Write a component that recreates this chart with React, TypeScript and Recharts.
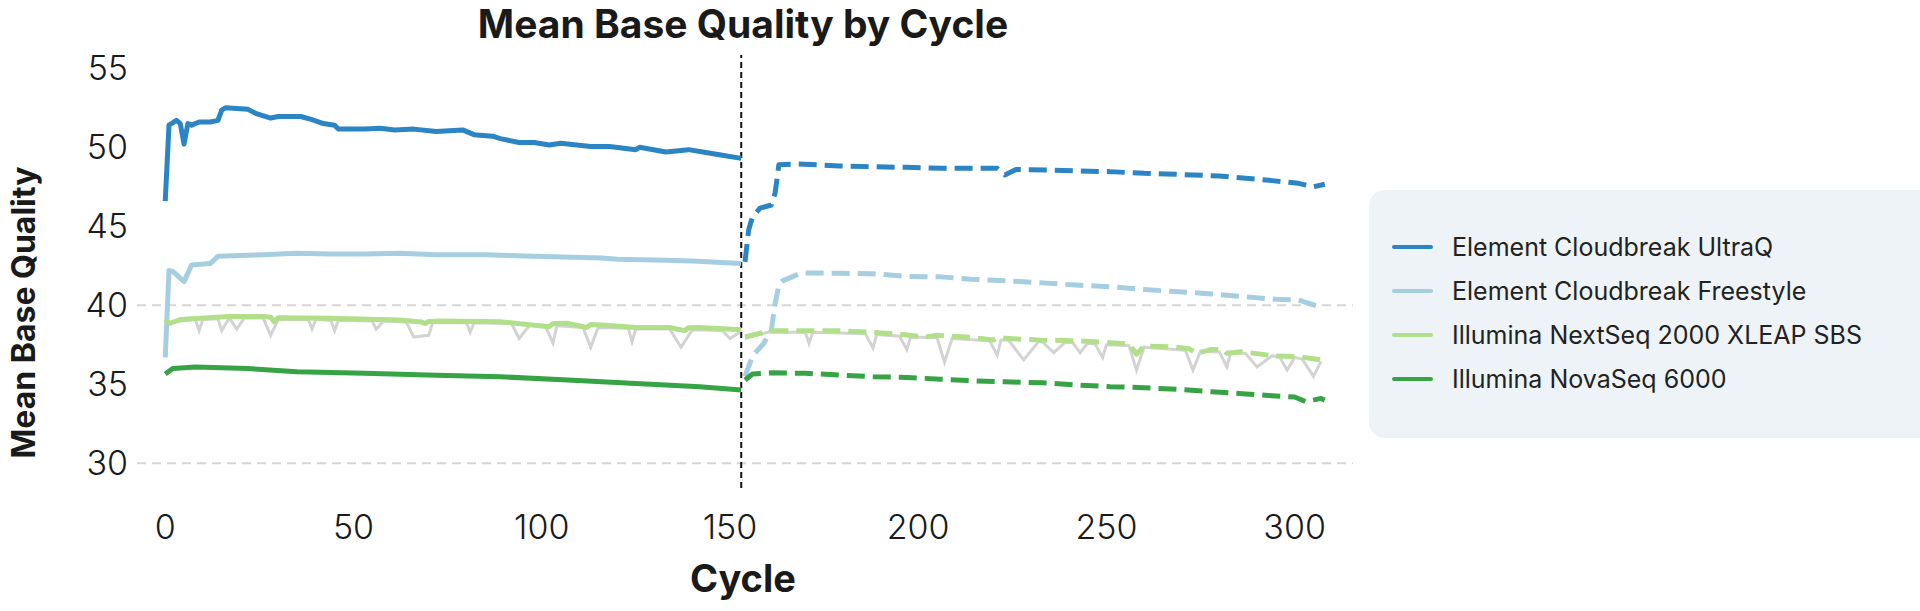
import React from 'react';
import { LineChart, Line, XAxis, YAxis, ReferenceLine } from 'recharts';

// [cycle, mean quality] pairs
const ULTRAQ_R1: [number, number][] = [
  [0, 46.6], [1, 51.4], [3, 51.7], [4, 51.5], [5, 50.2], [6, 51.5], [7, 51.4], [9, 51.6],
  [12, 51.6], [14, 51.7], [15, 52.35], [16, 52.5], [22, 52.4], [24, 52.15], [28, 51.85],
  [30, 51.95], [36, 51.95], [39, 51.75], [42, 51.5], [45, 51.4], [46, 51.15], [53, 51.15],
  [57, 51.2], [61, 51.1], [66, 51.15], [72, 51.0], [79, 51.1], [82, 50.8], [87, 50.7],
  [89, 50.55], [94, 50.3], [98, 50.3], [102, 50.15], [105, 50.25], [113, 50.05], [118, 50.05],
  [125, 49.85], [126, 50.0], [133, 49.7], [139, 49.85], [144, 49.65], [148, 49.5], [153, 49.3],
];
const ULTRAQ_R2: [number, number][] = [
  [154, 42.75], [155, 44.8], [156, 45.6], [158, 46.15], [161, 46.35], [162, 47.1], [163, 48.9],
  [168, 48.95], [179, 48.82], [188, 48.77], [197, 48.73], [206, 48.67], [214, 48.67],
  [221, 48.67], [223, 48.25], [226, 48.6], [235, 48.56], [242, 48.5], [251, 48.46],
  [260, 48.35], [266, 48.31], [273, 48.25], [280, 48.18], [287, 48.04], [294, 47.89],
  [301, 47.72], [305, 47.5], [308, 47.66],
];

const FREESTYLE_R1: [number, number][] = [
  [0, 36.7], [1, 42.2], [2, 42.15], [5, 41.5], [7, 42.55], [12, 42.65], [14, 43.1], [26, 43.2],
  [35, 43.3], [44, 43.25], [53, 43.25], [62, 43.3], [72, 43.2], [85, 43.2], [98, 43.1],
  [116, 43.0], [120, 42.92], [133, 42.85], [140, 42.8], [153, 42.65],
];
const FREESTYLE_R2: [number, number][] = [
  [154, 35.5], [156, 36.8], [159, 37.6], [161, 38.44], [162, 40.1], [163, 41.3], [164, 41.55],
  [169, 42.05], [179, 42.03], [188, 42.0], [197, 41.82], [206, 41.8], [214, 41.65],
  [223, 41.56], [233, 41.42], [242, 41.28], [251, 41.18], [260, 41.0], [269, 40.86],
  [278, 40.72], [287, 40.54], [295, 40.38], [301, 40.34], [306, 39.96],
];

const NEXTSEQ_R1: [number, number][] = [
  [0, 39.1], [1, 38.85], [4, 39.1], [17, 39.3], [26, 39.3], [28, 39.25], [29, 38.95],
  [30, 39.22], [44, 39.18], [62, 39.07], [68, 38.95], [69, 38.85], [70, 38.98], [73, 39.0],
  [89, 38.96], [102, 38.65], [103, 38.85], [107, 38.86], [112, 38.6], [113, 38.78],
  [116, 38.75], [125, 38.6], [134, 38.6], [138, 38.4], [139, 38.58], [142, 38.6], [153, 38.45],
];
const NEXTSEQ_R2: [number, number][] = [
  [154, 38.0], [158, 38.23], [161, 38.39], [170, 38.39], [179, 38.39], [188, 38.29],
  [197, 38.12], [202, 38.0], [205, 38.1], [214, 37.97], [220, 37.8], [221, 37.92], [223, 37.91],
  [232, 37.8], [242, 37.76], [251, 37.63], [256, 37.55], [258, 36.9], [260, 37.42],
  [267, 37.38], [272, 37.25], [274, 36.95], [278, 37.21], [281, 37.2], [282, 36.96],
  [286, 37.06], [295, 36.79], [301, 36.75], [307, 36.55],
];

// grey lower envelope under the NextSeq trace (per-tile minimum)
const NEXTSEQ_LOW_R1: [number, number][] = [
  [0, 38.9], [2, 38.95], [8, 39.1], [9, 38.4], [10, 39.1], [14, 39.15], [15, 38.4], [17, 39.2],
  [19, 38.5], [21, 39.2], [26, 39.2], [28, 38.1], [30, 39.1], [38, 39.1], [39, 38.5], [40, 39.1],
  [44, 39.05], [45, 38.4], [46, 39.05], [55, 39.0], [56, 38.5], [58, 39.0], [64, 38.95],
  [66, 38.0], [70, 38.1], [71, 38.9], [80, 38.9], [81, 38.3], [82, 38.9], [92, 38.85],
  [94, 37.9], [97, 38.8], [101, 38.7], [103, 37.6], [104, 38.7], [111, 38.6], [113, 37.35],
  [115, 38.6], [123, 38.55], [124, 37.7], [125, 38.5], [134, 38.5], [137, 37.35], [140, 38.45],
  [148, 38.4], [150, 37.9], [153, 38.35],
];
const NEXTSEQ_LOW_R2: [number, number][] = [
  [154, 37.9], [160, 38.3], [170, 38.3], [171, 37.6], [172, 38.3], [186, 38.2], [188, 37.3],
  [189, 38.15], [195, 38.05], [197, 37.2], [198, 38.0], [205, 37.95], [207, 36.4], [209, 37.9],
  [219, 37.75], [221, 36.85], [222, 37.8], [224, 37.8], [228, 36.55], [232, 37.7], [233, 37.7],
  [236, 37.0], [239, 37.65], [241, 37.65], [243, 37.0], [245, 37.6], [247, 37.55], [249, 36.7],
  [250, 37.5], [256, 37.45], [258, 35.9], [260, 37.35], [271, 37.15], [273, 35.9], [275, 37.1],
  [280, 37.05], [282, 36.1], [283, 37.0], [287, 36.95], [290, 36.1], [294, 36.8], [296, 36.75],
  [298, 35.9], [300, 36.7], [302, 36.6], [305, 35.5], [307, 36.45],
];

const NOVASEQ_R1: [number, number][] = [
  [0, 35.65], [2, 36.0], [8, 36.1], [22, 36.0], [35, 35.8], [53, 35.7], [72, 35.57],
  [89, 35.48], [107, 35.27], [125, 35.06], [142, 34.85], [153, 34.64],
];
const NOVASEQ_R2: [number, number][] = [
  [154, 35.27], [156, 35.65], [161, 35.73], [170, 35.7], [179, 35.59], [188, 35.48],
  [197, 35.44], [206, 35.32], [214, 35.23], [223, 35.16], [233, 35.1], [242, 34.96],
  [251, 34.85], [260, 34.79], [269, 34.68], [278, 34.53], [287, 34.39], [295, 34.26],
  [300, 34.2], [303, 33.9], [307, 34.11], [308, 34.0],
];

const X_TICKS = [0, 50, 100, 150, 200, 250, 300];
const Y_TICKS = [30, 35, 40, 45, 50, 55];
const GRID_Y = [30, 40];
const READ_SPLIT = 153;

const SERIES = [
  { name: 'Element Cloudbreak UltraQ', color: '#2b84c3', r1: ULTRAQ_R1, r2: ULTRAQ_R2 },
  { name: 'Element Cloudbreak Freestyle', color: '#a6cee3', r1: FREESTYLE_R1, r2: FREESTYLE_R2 },
  { name: 'Illumina NextSeq 2000 XLEAP SBS', color: '#b2df8a', r1: NEXTSEQ_R1, r2: NEXTSEQ_R2 },
  { name: 'Illumina NovaSeq 6000', color: '#36a345', r1: NOVASEQ_R1, r2: NOVASEQ_R2 },
];

const toRows = (pairs: [number, number][]) => pairs.map(([c, q]) => ({ c, q }));

const FONT = 'Inter, "Open Sans", sans-serif';
const TICK_STYLE = { fontSize: 34, fill: '#1a1a1a', fontWeight: 300, fontFamily: FONT };

export default function App() {
  return (
    <div style={{ position: 'relative', width: 1920, height: 611, overflow: 'hidden', fontFamily: FONT }}>
      <style>{'body{margin:0}'}</style>
      <div
        style={{
          position: 'absolute', left: 0, width: 1486, top: 0, textAlign: 'center',
          fontSize: 39, fontWeight: 700, color: '#1a1a1a', lineHeight: '48px',
        }}
      >
        Mean Base Quality by Cycle
      </div>
      <LineChart width={1920} height={611} margin={{ top: 55, right: 567, bottom: 63, left: 57 }}>
        <XAxis
          type="number"
          dataKey="c"
          domain={[-7.5, 315.5]}
          ticks={X_TICKS}
          allowDataOverflow
          axisLine={false}
          tickLine={false}
          tickSize={0}
          tickMargin={27}
          height={60}
          tick={TICK_STYLE}
        />
        <YAxis
          type="number"
          dataKey="q"
          domain={[28.44, 55.84]}
          ticks={Y_TICKS}
          allowDataOverflow
          axisLine={false}
          tickLine={false}
          tickSize={0}
          tickMargin={9}
          width={80}
          tick={TICK_STYLE}
        />
        {GRID_Y.map((y) => (
          <ReferenceLine key={y} y={y} stroke="#d6d6d6" strokeWidth={2} strokeDasharray="9 6" />
        ))}
        <Line data={toRows(NEXTSEQ_LOW_R1)} dataKey="q" stroke="#d3d3d3" strokeWidth={3}
          dot={false} activeDot={false} isAnimationActive={false} />
        <Line data={toRows(NEXTSEQ_LOW_R2)} dataKey="q" stroke="#d3d3d3" strokeWidth={3}
          dot={false} activeDot={false} isAnimationActive={false} />
        <ReferenceLine x={READ_SPLIT} stroke="#111" strokeWidth={2} strokeDasharray="6 4" />
        {SERIES.map((s) => (
          <Line
            key={s.name + '-r1'}
            data={toRows(s.r1)}
            dataKey="q"
            type="linear"
            stroke={s.color}
            strokeWidth={5}
            strokeLinejoin="round"
            dot={false}
            activeDot={false}
            isAnimationActive={false}
          />
        ))}
        {SERIES.map((s) => (
          <Line
            key={s.name + '-r2'}
            data={toRows(s.r2)}
            dataKey="q"
            type="linear"
            stroke={s.color}
            strokeWidth={5}
            strokeDasharray="18 8"
            strokeLinejoin="round"
            dot={false}
            activeDot={false}
            isAnimationActive={false}
          />
        ))}
      </LineChart>
      <div
        style={{
          position: 'absolute', left: 2, top: 312, width: 44, height: 0,
          display: 'flex', alignItems: 'center', justifyContent: 'center',
        }}
      >
        <div
          style={{
            transform: 'rotate(-90deg)', whiteSpace: 'nowrap', fontSize: 32,
            fontWeight: 700, color: '#1a1a1a',
          }}
        >
          Mean Base Quality
        </div>
      </div>
      <div
        style={{
          position: 'absolute', left: 643, width: 200, top: 555, textAlign: 'center',
          fontSize: 38, fontWeight: 700, color: '#1a1a1a', lineHeight: '46px',
        }}
      >
        Cycle
      </div>
      <div
        style={{
          position: 'absolute', left: 1369, top: 190, width: 600, height: 248,
          background: '#eef3f7', borderRadius: 16, boxSizing: 'border-box', paddingTop: 35,
        }}
      >
        {SERIES.map((s) => (
          <div key={s.name} style={{ display: 'flex', alignItems: 'center', height: 44 }}>
            <div style={{ marginLeft: 23, width: 41, height: 4, background: s.color, borderRadius: 2 }} />
            <div style={{ marginLeft: 19, fontSize: 25, color: '#222' }}>{s.name}</div>
          </div>
        ))}
      </div>
    </div>
  );
}
